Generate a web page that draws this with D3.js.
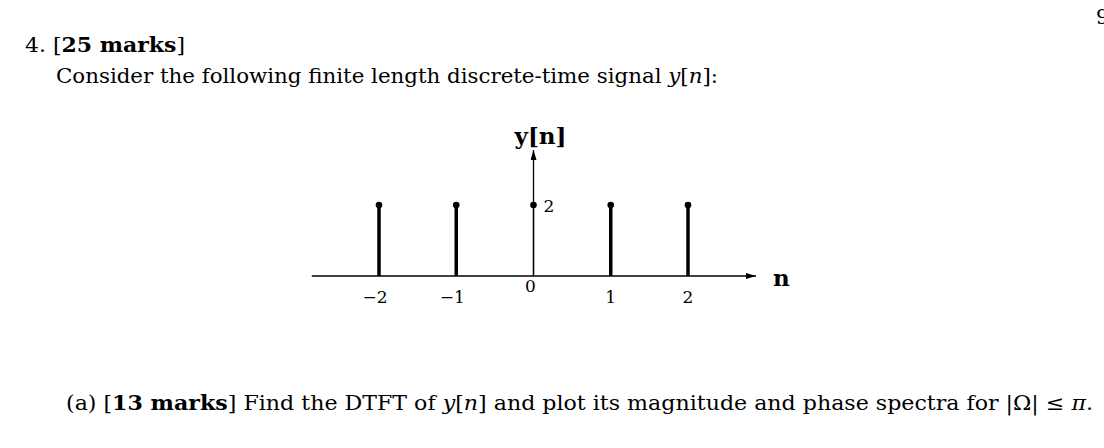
<!DOCTYPE html>
<html><head><meta charset="utf-8">
<script src="https://cdn.jsdelivr.net/npm/d3@7"></script>
<style>body{margin:0;background:#fff}svg{display:block}text{font-family:"DejaVu Serif","Liberation Serif",serif;fill:#000}</style>
</head><body>
<script>
const nValues = [-2, -1, 0, 1, 2];
const yValues = [2, 2, 2, 2, 2];
const tickLabels = ["\u22122", "\u22121", "0", "1", "2"];

const W = 1104, H = 448;
const svg = d3.select("body").append("svg").attr("width", W).attr("height", H);
const defs = svg.append("defs");
defs.append("marker").attr("id", "arr").attr("viewBox", "0 0 10 6").attr("refX", 10).attr("refY", 3)
  .attr("markerWidth", 16).attr("markerHeight", 6).attr("markerUnits", "userSpaceOnUse").attr("orient", "auto")
  .append("path").attr("d", "M0,0L10,3L0,6Z").attr("fill", "#000");

// header text
svg.append("text").attr("x", 1096).attr("y", 24).attr("font-size", 20).text("9");
const h = svg.append("text").attr("x", 25).attr("y", 52).attr("font-size", 20)
  .attr("textLength", 160).attr("lengthAdjust", "spacingAndGlyphs");
h.append("tspan").text("4.  ");
h.append("tspan").text("[");
h.append("tspan").attr("font-weight", "bold").text("25 marks");
h.append("tspan").text("]");
const c = svg.append("text").attr("x", 56).attr("y", 83).attr("font-size", 20)
  .attr("textLength", 662).attr("lengthAdjust", "spacingAndGlyphs");
c.append("tspan").text("Consider the following finite length discrete-time signal ");
c.append("tspan").attr("font-style", "italic").text("y");
c.append("tspan").text("[");
c.append("tspan").attr("font-style", "italic").text("n");
c.append("tspan").text("]:");

const q = svg.append("text").attr("x", 66).attr("y", 410).attr("font-size", 20)
  .attr("textLength", 1027).attr("lengthAdjust", "spacingAndGlyphs");
q.append("tspan").text("(a)  [");
q.append("tspan").attr("font-weight", "bold").text("13 marks");
q.append("tspan").text("] Find the DTFT of ");
q.append("tspan").attr("font-style", "italic").text("y");
q.append("tspan").text("[");
q.append("tspan").attr("font-style", "italic").text("n");
q.append("tspan").text("] and plot its magnitude and phase spectra for |\u03A9| \u2264 ");
q.append("tspan").attr("font-style", "italic").text("\u03C0");
q.append("tspan").text(".");

// stem plot
const x = d3.scaleLinear().domain([-2, 2]).range([379, 688]);
const y = d3.scaleLinear().domain([0, 2]).range([276, 205]);
const g = svg.append("g");

g.append("line").attr("x1", x(-2.87)).attr("x2", x(2.88)).attr("y1", y(0)).attr("y2", y(0))
  .attr("stroke", "#000").attr("stroke-width", 1.3).attr("marker-end", "url(#arr)");
g.append("line").attr("x1", x(0)).attr("x2", x(0)).attr("y1", y(0)).attr("y2", y(3.55))
  .attr("stroke", "#000").attr("stroke-width", 1.3).attr("marker-end", "url(#arr)");

g.selectAll(".stem").data(nValues).join("line")
  .attr("x1", d => x(d)).attr("x2", d => x(d)).attr("y1", y(0)).attr("y2", (d, i) => y(yValues[i]))
  .attr("stroke", "#000").attr("stroke-width", d => d === 0 ? 1.3 : 3.5);
g.selectAll(".dot").data(nValues).join("circle")
  .attr("cx", d => x(d)).attr("cy", (d, i) => y(yValues[i])).attr("r", 3.3).attr("fill", "#000");

g.selectAll(".tl").data(nValues).join("text")
  .attr("x", d => x(d) + (d === 0 ? -3 : d < 0 ? -4 : 0))
  .attr("y", d => d === 0 ? 292 : 303).attr("text-anchor", "middle").attr("font-size", 17)
  .text((d, i) => tickLabels[i]);
g.append("text").attr("x", x(0) + 10).attr("y", y(2) + 7).attr("font-size", 17).text("2");
g.append("text").attr("x", x(0) + 7).attr("y", 144).attr("text-anchor", "middle").attr("font-size", 23).attr("font-weight", "bold")
  .attr("textLength", 52).attr("lengthAdjust", "spacingAndGlyphs").text("y[n]");
g.append("text").attr("x", 773).attr("y", 286).attr("font-size", 23).attr("font-weight", "bold").text("n");
</script>
</body></html>
